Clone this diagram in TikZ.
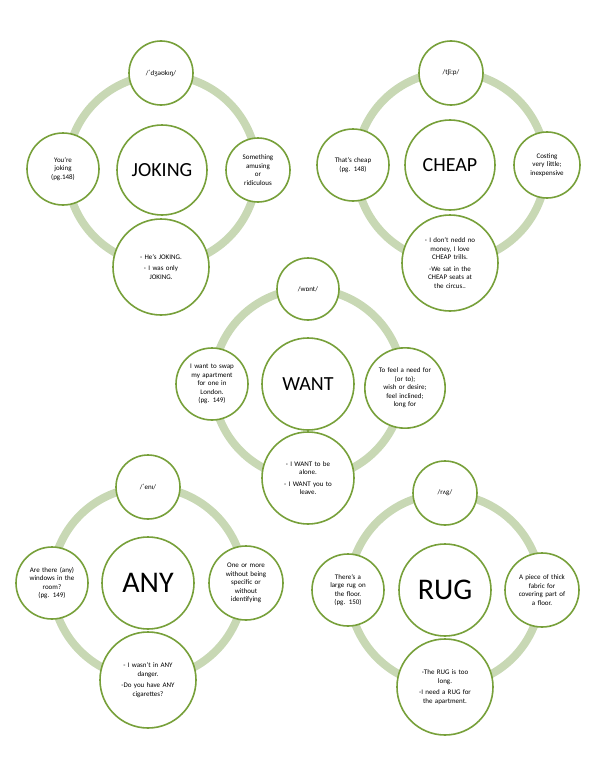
\documentclass[tikz,border=0pt]{standalone}
\usepackage{fontspec}
\setmainfont{Carlito}
\begin{document}
\begin{tikzpicture}[x=1pt,y=-1pt,
  ring/.style={draw=ringc,line width=8pt},
  c/.style={circle,draw=edgec,line width=1.6pt,fill=white,inner sep=0pt,align=center,font=\fontsize{7}{8.5}\selectfont},
  big/.style={c,font=\fontsize{20}{22}\selectfont},
  huge/.style={c,font=\fontsize{30}{32}\selectfont}]
\definecolor{ringc}{RGB}{200,216,180}
\definecolor{edgec}{RGB}{119,160,58}
\useasboundingbox (0,0) rectangle (600,776);
% JOKING
\draw[ring] (162,170) circle (95);
\node[big,minimum size=90] (j) at (162,170) {JOKING};
\node[c,minimum size=64] (jt) at (161,73) {/ˈdʒəʊkɪŋ/};
\node[c,minimum size=72,text width=50] (jl) at (63,169) {You're\\joking\\(pg.148)};
\node[c,minimum size=64,text width=52] (jr) at (258,170) {Something\\amusing\\or\\ridiculous};
\node[c,minimum size=96,text width=70] (jb) at (161,267) {- He's JOKING.\\[3pt]- I was only\\JOKING.};
% CHEAP
\draw[ring] (451,167) circle (95);
\node[big,minimum size=90] (ch) at (450,165) {CHEAP};
\node[c,minimum size=64] (cht) at (451,73) {/tʃiːp/};
\node[c,minimum size=72,text width=60] (chl) at (353,165) {That's cheap\\(pg. 148)};
\node[c,minimum size=66,text width=56] (chr) at (547,165) {Costing\\very little;\\inexpensive};
\node[c,minimum size=96,text width=72] (chb) at (450,263) {- I don't nedd no\\money, I love\\CHEAP trills.\\[3pt]-We sat in the\\CHEAP seats at\\the circus..};
% WANT
\draw[ring] (308,384) circle (95);
\node[big,minimum size=92] (w) at (308,384) {WANT};
\node[c,minimum size=62] (wt) at (308,289) {/wɒnt/};
\node[c,minimum size=72,text width=60] (wl) at (212,384) {I want to swap\\my apartment\\for one in\\London.\\(pg. 149)};
\node[c,minimum size=80,text width=70] (wr) at (405,388) {To feel a need for\\(or to);\\wish or desire;\\feel inclined;\\long for};
\node[c,minimum size=92,text width=70] (wb) at (308,478) {- I WANT to be\\alone.\\[3pt]- I WANT you to\\leave.};
% ANY
\draw[ring] (148,583) circle (96);
\node[huge,minimum size=92] (a) at (148,583) {ANY};
\node[c,minimum size=64] (at) at (148,487) {/ˈenɪ/};
\node[c,minimum size=72,text width=60] (al) at (52,583) {Are there (any)\\windows in the\\room?\\(pg. 149)};
\node[c,minimum size=74,text width=58] (ar) at (246,583) {One or more\\without being\\specific or\\without\\identifying};
\node[c,minimum size=96,text width=76] (ab) at (148,680) {- I wasn't in ANY\\danger.\\[3pt]-Do you have ANY\\cigarettes?};
% RUG
\draw[ring] (445,590) circle (96);
\node[huge,minimum size=92] (r) at (445,590) {RUG};
\node[c,minimum size=64] (rt) at (445,493) {/rʌg/};
\node[c,minimum size=72,text width=56] (rl) at (348,590) {There's a\\large rug on\\the floor.\\(pg. 150)};
\node[c,minimum size=74,text width=64] (rr) at (542,590) {A piece of thick\\fabric for\\covering part of\\a floor.};
\node[c,minimum size=96,text width=72] (rb) at (445,687) {-The RUG is too\\long.\\[3pt]-I need a RUG for\\the apartment.};
\end{tikzpicture}
\end{document}
